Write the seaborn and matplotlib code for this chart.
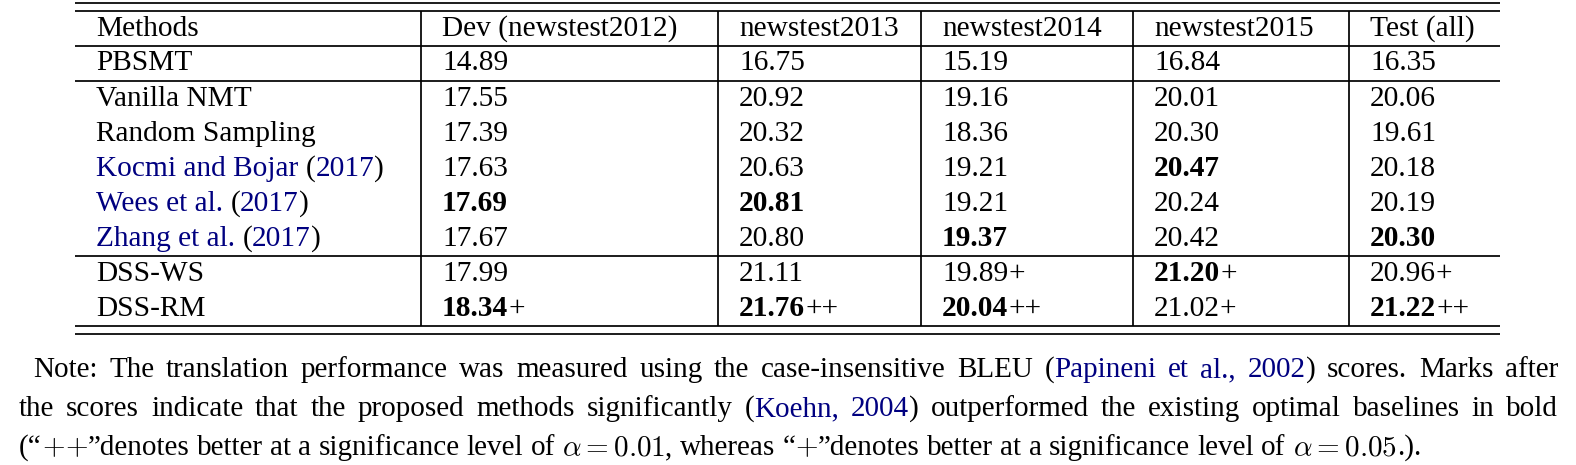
import re
import matplotlib
matplotlib.use("Agg")
import matplotlib.pyplot as plt
import seaborn as sns

# ---------------- data ----------------
columns = ["Methods", "Dev (newstest2012)", "newstest2013", "newstest2014",
           "newstest2015", "Test (all)"]
methods = ["PBSMT", "Vanilla NMT", "Random Sampling", "Kocmi and Bojar (2017)",
           "Wees et al. (2017)", "Zhang et al. (2017)", "DSS-WS", "DSS-RM"]
cited = [False, False, False, True, True, True, False, False]

dev = [14.89, 17.55, 17.39, 17.63, 17.69, 17.67, 17.99, 18.34]
nt2013 = [16.75, 20.92, 20.32, 20.63, 20.81, 20.80, 21.11, 21.76]
nt2014 = [15.19, 19.16, 18.36, 19.21, 19.21, 19.37, 19.89, 20.04]
nt2015 = [16.84, 20.01, 20.30, 20.47, 20.24, 20.42, 21.20, 21.02]
test_all = [16.35, 20.06, 19.61, 20.18, 20.19, 20.30, 20.96, 21.22]

marks_dev = ["", "", "", "", "", "", "", "+"]
marks_2013 = ["", "", "", "", "", "", "", "++"]
marks_2014 = ["", "", "", "", "", "", "+", "++"]
marks_2015 = ["", "", "", "", "", "", "+", "+"]
marks_test = ["", "", "", "", "", "", "+", "++"]

bold_dev = [0, 0, 0, 0, 1, 0, 0, 1]
bold_2013 = [0, 0, 0, 0, 1, 0, 0, 1]
bold_2014 = [0, 0, 0, 0, 0, 1, 0, 1]
bold_2015 = [0, 0, 0, 1, 0, 0, 1, 0]
bold_test = [0, 0, 0, 0, 0, 1, 0, 1]

groups_end_after = [0, 5]  # row indices followed by a rule

# note text: lines -> words -> (segment, kind)  kind: t=text, c=citation, m=math
note_lines = [
    [[("Note:", "t")], [("The", "t")], [("translation", "t")], [("performance", "t")],
     [("was", "t")], [("measured", "t")], [("using", "t")], [("the", "t")],
     [("case-insensitive", "t")], [("BLEU", "t")], [("(", "t"), ("Papineni", "c")],
     [("et", "c")], [("al.,", "c")], [("2002", "c"), (")", "t")], [("scores.", "t")],
     [("Marks", "t")], [("after", "t")]],
    [[("the", "t")], [("scores", "t")], [("indicate", "t")], [("that", "t")],
     [("the", "t")], [("proposed", "t")], [("methods", "t")], [("significantly", "t")],
     [("(", "t"), ("Koehn,", "c")], [("2004", "c"), (")", "t")], [("outperformed", "t")],
     [("the", "t")], [("existing", "t")], [("optimal", "t")], [("baselines", "t")],
     [("in", "t")], [("bold", "t")]],
    [[("(\u201c", "t"), ("$+$", "m"), ("$+$", "m"), ("\u201ddenotes", "t")],
     [("better", "t")], [("at", "t")], [("a", "t")], [("significance", "t")],
     [("level", "t")], [("of", "t")], [(r"$\alpha = 0.01$", "m"), (",", "t")],
     [("whereas", "t")], [("\u201c", "t"), ("$+$", "m"), ("\u201ddenotes", "t")],
     [("better", "t")], [("at", "t")], [("a", "t")], [("significance", "t")],
     [("level", "t")], [("of", "t")], [(r"$\alpha = 0.05$", "m"), (".).", "t")]],
]
note_justified = [True, True, False]

# ---------------- style ----------------
sns.set_theme(style="white")
plt.rcParams["font.family"] = ["Liberation Serif", "DejaVu Serif"]
plt.rcParams["mathtext.fontset"] = "cm"

W, H = 1576, 465
FS = 21.2
FS_NOTE = 21.0
CITE = (0.0, 0.0, 0.5)
LW = 1.25

fig = plt.figure(figsize=(W / 100, H / 100), dpi=100)
fig.patch.set_facecolor("white")
ax = fig.add_axes([0, 0, 1, 1])
ax.set_xlim(0, W)
ax.set_ylim(H, 0)
ax.axis("off")
sns.despine(ax=ax, left=True, bottom=True)
fig.canvas.draw()
renderer = fig.canvas.get_renderer()


def style_kw(kind, bold=False, fs=FS):
    kw = dict(fontsize=fs, va="baseline", ha="left",
              fontweight="bold" if bold else "normal")
    kw["color"] = CITE if kind == "c" else "black"
    return kw


def measure(s, kind="t", bold=False, fs=FS):
    t = ax.text(0, 100, s, **style_kw(kind, bold, fs))
    w = t.get_window_extent(renderer=renderer).width
    t.remove()
    return w


def draw_segments(x, y, segs, fs=FS):
    for s, kind, bold in segs:
        t = ax.text(x, y, s, **style_kw(kind, bold, fs))
        x += t.get_window_extent(renderer=renderer).width
    return x


SPACE = measure("a a") - measure("aa")
SPACE_NOTE = measure("a a", fs=FS_NOTE) - measure("aa", fs=FS_NOTE)

# ---------------- table geometry ----------------
left, right = 75, 1500
vlines = [421, 718, 921, 1133, 1349]
col_x = [left] + vlines
pad = 21
top_rules = [3, 11]
pitch = 35
header_top = 11
row_tops = [header_top + pitch * (i + 1) for i in range(len(methods))]
bottom = row_tops[-1] + pitch
bottom_rules = [bottom, bottom + 8]
base_off = 24.5

for y in top_rules + bottom_rules:
    ax.hlines(y, left, right, color="black", lw=LW)
ax.hlines(header_top + pitch, left, right, color="black", lw=LW)
for r in groups_end_after:
    ax.hlines(row_tops[r] + pitch, left, right, color="black", lw=LW)
ax.vlines(vlines, top_rules[1], bottom_rules[0], color="black", lw=LW)

# header
for j, name in enumerate(columns):
    draw_segments(col_x[j] + pad, header_top + base_off, [(name, "t", False)])

score_columns = [dev, nt2013, nt2014, nt2015, test_all]
mark_columns = [marks_dev, marks_2013, marks_2014, marks_2015, marks_test]
bold_columns = [bold_dev, bold_2013, bold_2014, bold_2015, bold_test]

for i, m in enumerate(methods):
    yb = row_tops[i] + base_off
    if cited[i]:
        mm = re.match(r"(.*) \((\d+)\)", m)
        x = draw_segments(col_x[0] + pad, yb, [(mm.group(1), "c", False)])
        x += SPACE
        draw_segments(x, yb, [("(", "t", False), (mm.group(2), "c", False),
                              (")", "t", False)])
    else:
        draw_segments(col_x[0] + pad, yb, [(m, "t", False)])
    for j in range(5):
        v = score_columns[j][i]
        segs = [(f"{v:.2f}", "t", bool(bold_columns[j][i]))]
        if mark_columns[j][i]:
            segs.append((mark_columns[j][i], "t", False))
        draw_segments(col_x[j + 1] + pad, yb, segs)

# ---------------- note ----------------
note_left, note_right = 19, 1558
indent = 14
note_base = [377, 416, 455]
for li, words in enumerate(note_lines):
    x0 = note_left + (indent if li == 0 else 0)
    widths = []
    for w in words:
        widths.append(sum(measure(s, k, fs=FS_NOTE) for s, k in w))
    if note_justified[li]:
        gap = (note_right - x0 - sum(widths)) / (len(words) - 1)
    else:
        gap = SPACE_NOTE
    x = x0
    for w, wd in zip(words, widths):
        draw_segments(x, note_base[li], [(s, k, False) for s, k in w], fs=FS_NOTE)
        x += wd + gap

fig.savefig("out.png", dpi=100, facecolor="white")
